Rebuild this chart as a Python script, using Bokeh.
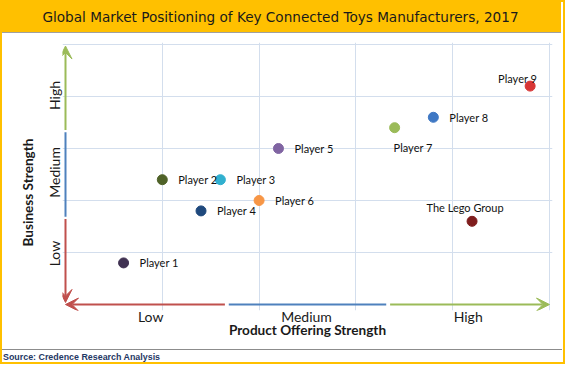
from bokeh.plotting import figure
from bokeh.models import Div, Range1d, FixedTicker, Arrow, VeeHead, ColumnDataSource, Title
from bokeh.layouts import column
from bokeh.core.properties import value
from bokeh.embed import file_html
from bokeh.resources import INLINE

# ---- data ----
players = ["Player 1", "Player 2", "Player 3", "Player 4", "Player 5",
           "Player 6", "Player 7", "Player 8", "Player 9", "The Lego Group"]
product_strength = [0.6, 1.0, 1.6, 1.4, 2.2, 2.0, 3.4, 3.8, 4.8, 4.2]
business_strength = [0.8, 2.4, 2.4, 1.8, 3.0, 2.0, 3.4, 3.6, 4.2, 1.6]
point_colors = ["#403152", "#4f6228", "#31b0cf", "#1f497d", "#8064a2",
                "#f79646", "#9bbb59", "#3f78c4", "#d83636", "#7f1d1d"]
level_labels = ["Low", "Medium", "High"]
x_level_ticks = [0.88, 2.49, 4.16]
y_level_ticks = [0.98, 2.54, 4.02]
grid_ticks = [1, 2, 3, 4, 5]
scale_max = 5

# label placement (screen px) per point
label_dx = [16, 16, 16, 16, 16, 16, -1, 16, 7, -7]
label_dy = [0, 0, 0, 0, 0, 0, 19.5, 0, -8, -14]
label_align = ["left"] * 6 + ["left", "left", "right", "center"]

FONT = "Lato"

p = figure(frame_width=490, frame_height=268,
           min_border_left=60, min_border_right=11, min_border_top=9, min_border_bottom=39,
           x_range=Range1d(-0.031, 5.031), y_range=Range1d(-0.115, 5.038),
           output_backend="svg", toolbar_location=None,
           background_fill_color="white", border_fill_color="white")
p.outline_line_color = None

# grid
for g in (p.xgrid[0], p.ygrid[0]):
    g.ticker = FixedTicker(ticks=grid_ticks)
    g.bounds = (0, scale_max)
    g.grid_line_color = "#d3deed"
    g.grid_line_width = 1

# axes
for ax in (p.xaxis[0], p.yaxis[0]):
    ax.axis_line_color = None
    ax.major_tick_line_color = None
    ax.minor_tick_line_color = None
    ax.major_label_text_font = FONT
    ax.major_label_text_font_size = "14px"
    ax.major_label_text_color = "#1a1a1a"
p.xaxis.major_label_standoff = -9
p.yaxis.major_label_standoff = -7

p.xaxis.ticker = FixedTicker(ticks=x_level_ticks)
p.xaxis.major_label_overrides = {t: l for t, l in zip(x_level_ticks, level_labels)}
p.xaxis.axis_label = "Product Offering Strength"
p.xaxis.axis_label_text_font = FONT
p.xaxis.axis_label_text_font_style = "bold"
p.xaxis.axis_label_text_font_size = "13.6px"
p.xaxis.axis_label_text_color = "#1a1a1a"
p.xaxis.axis_label_standoff = -6

p.yaxis.ticker = FixedTicker(ticks=y_level_ticks)
p.yaxis.major_label_overrides = {t: l for t, l in zip(y_level_ticks, level_labels)}
p.yaxis.major_label_orientation = "vertical"

p.add_layout(Title(text="Business Strength", align="left", offset=64,
                   vertical_align="top", standoff=11,
                   text_font=FONT, text_font_style="bold",
                   text_font_size="13.6px", text_color="#1a1a1a"), "left")

# axis arrows (thirds of the scale)
third = scale_max / 3
gap = 0.02
red, blue, green = "#c0504d", "#4f81bd", "#9bbb59"
segs = [
    # x axis
    (third - gap, 0, 0, 0, red, True),
    (third + gap, 0, 2 * third - gap, 0, blue, False),
    (2 * third + gap, 0, scale_max, 0, green, True),
    # y axis
    (0, third - gap, 0, 0.04, red, True),
    (0, third + gap, 0, 2 * third - gap, blue, False),
    (0, 2 * third + gap, 0, scale_max - 0.03, green, True),
]
for xs, ys, xe, ye, c, head in segs:
    end = VeeHead(size=13, fill_color=c, line_color=c) if head else None
    p.add_layout(Arrow(x_start=xs, y_start=ys, x_end=xe, y_end=ye, end=end,
                       line_color=c, line_width=2))

src = ColumnDataSource(dict(x=product_strength, y=business_strength, name=players,
                            color=point_colors, dx=label_dx, dy=label_dy, align=label_align))
p.scatter("x", "y", source=src, size=10, fill_color="color", line_color="color")
p.text("x", "y", text="name", source=src, x_offset="dx", y_offset="dy",
       text_align="align", text_baseline="middle",
       text_font=value(FONT), text_font_size="11px", text_color="#111111")

title = Div(text="Global Market Positioning of Key Connected Toys Manufacturers, 2017",
            width=559, height=31, margin=0,
            styles={"background-color": "#ffc000", "border-bottom": "1px solid #a0a0a0",
                    "text-align": "center", "font-family": "DejaVu Sans",
                    "font-size": "13.6px", "line-height": "30px", "color": "#1a1a1a",
                    "padding-right": "2px"})
source = Div(text="Source: Credence Research Analysis", width=560, height=13, margin=0,
             styles={"background-color": "white", "border-top": "1px solid #8c8c8c",
                     "font-family": "Liberation Sans", "font-weight": "bold",
                     "font-size": "8.9px", "line-height": "15px", "color": "#1f3864",
                     "padding-left": "1px"})

root = column(title, p, source, spacing=0,
              styles={"border": "2px solid #ffc000", "background-color": "white"})

open("out.html", "w").write(file_html(root, INLINE))
